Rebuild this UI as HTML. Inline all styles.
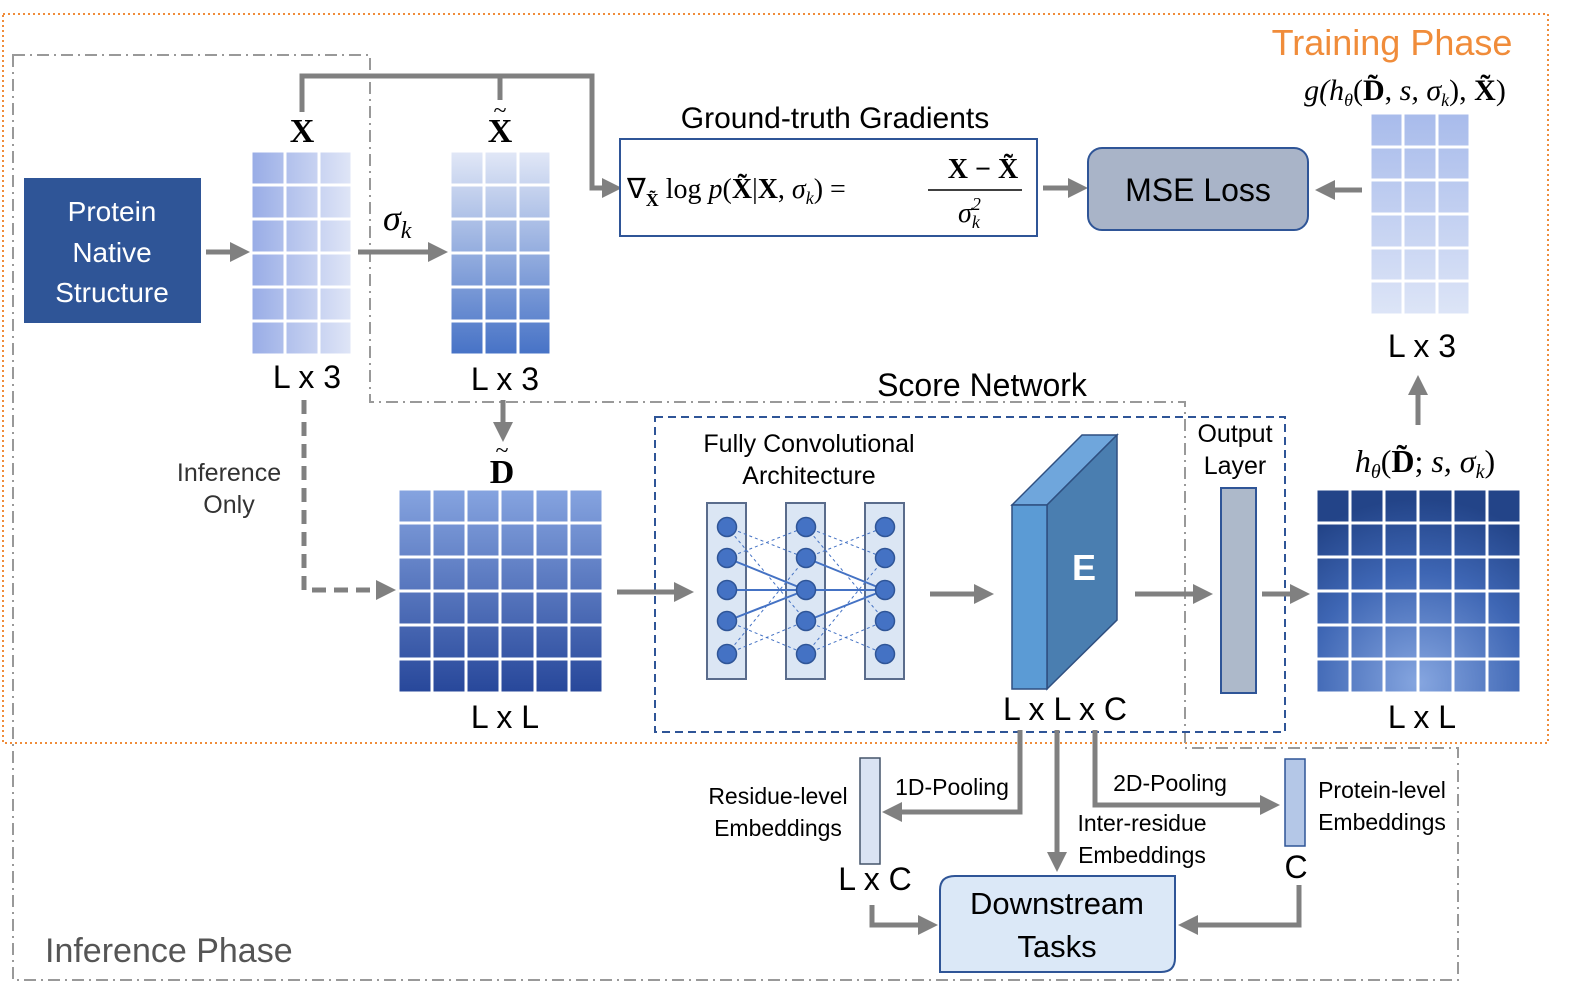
<!DOCTYPE html>
<html><head><meta charset="utf-8"><style>body{margin:0;background:#fff}svg{display:block}</style></head><body>
<svg width="1578" height="1005" viewBox="0 0 1578 1005" xmlns="http://www.w3.org/2000/svg" font-family="Liberation Sans, sans-serif">
<defs>
<linearGradient id="gx" x1="0" x2="1" y1="0" y2="0"><stop offset="0" stop-color="#98ace6"/><stop offset="1" stop-color="#e0e6f7"/></linearGradient>
<linearGradient id="gxt" x1="0" x2="0" y1="0" y2="1"><stop offset="0" stop-color="#e2e8f7"/><stop offset="1" stop-color="#4672c6"/></linearGradient>
<linearGradient id="gr" x1="0" x2="0" y1="0" y2="1"><stop offset="0" stop-color="#a8bbeb"/><stop offset="1" stop-color="#dde5f7"/></linearGradient>
<linearGradient id="gd" x1="0" x2="0" y1="0" y2="1"><stop offset="0" stop-color="#86a4e0"/><stop offset="1" stop-color="#27479a"/></linearGradient>
<radialGradient id="gh" cx="0.5" cy="0.95" r="0.9"><stop offset="0" stop-color="#86a6e0"/><stop offset="0.6" stop-color="#3e66b4"/><stop offset="1" stop-color="#234488"/></radialGradient>
<marker id="ah" markerWidth="4" markerHeight="4" refX="2" refY="2" orient="auto"><path d="M0,0 L4,2 L0,4z" fill="#808080"/></marker>
<pattern id="cells3" width="1" height="1"/>
</defs>
<!-- frames -->
<rect x="3" y="14" width="1545" height="729" fill="none" stroke="#f08c3a" stroke-width="2" stroke-dasharray="2,3"/>
<path d="M13,55 H370 V402 H1185 V748 H1458 V980 H13 Z" fill="none" stroke="#999" stroke-width="2" stroke-dasharray="12,5,2,5"/>
<rect x="655" y="417" width="630" height="315" fill="none" stroke="#2F5597" stroke-width="2" stroke-dasharray="8,5"/>
<text x="1392" y="55" font-size="36" fill="#f08c3a" text-anchor="middle">Training Phase</text>
<text x="45" y="962" font-size="34" fill="#555">Inference Phase</text>
<!-- protein box -->
<rect x="24" y="178" width="177" height="145" fill="#2F5597"/>
<text font-size="28" fill="#fff" text-anchor="middle"><tspan x="112" y="221">Protein</tspan><tspan x="112" y="262">Native</tspan><tspan x="112" y="302">Structure</tspan></text>
<!-- matrices -->
<g stroke="#fff" stroke-width="3">
<rect x="251" y="151" width="101" height="204" fill="url(#gx)"/>
<path d="M285,151V355M319,151V355M251,185H352M251,219H352M251,253H352M251,287H352M251,321H352"/>
<rect x="450" y="151" width="101" height="204" fill="url(#gxt)"/>
<path d="M484,151V355M518,151V355M450,185H551M450,219H551M450,253H551M450,287H551M450,321H551"/>
<rect x="1370" y="113" width="100" height="202" fill="url(#gr)"/>
<path d="M1403,113V315M1437,113V315M1370,147H1470M1370,180H1470M1370,214H1470M1370,248H1470M1370,281H1470"/>
<rect x="398" y="489" width="205" height="204" fill="url(#gd)"/>
<path d="M432,489V693M466,489V693M500,489V693M535,489V693M569,489V693M398,523H603M398,557H603M398,591H603M398,625H603M398,659H603"/>
<rect x="1316" y="489" width="205" height="204" fill="url(#gh)"/>
<path d="M1350,489V693M1384,489V693M1418,489V693M1453,489V693M1487,489V693M1316,523H1521M1316,557H1521M1316,591H1521M1316,625H1521M1316,659H1521"/>
</g>
<g font-family="Liberation Serif, serif" font-weight="bold" font-size="34" text-anchor="middle">
<text x="302" y="142">X</text><text x="500" y="142">X</text><text x="500" y="118" font-weight="normal" font-size="24">~</text>
<text x="502" y="483">D</text><text x="502" y="458" font-weight="normal" font-size="24">~</text>
</g>
<g font-size="32" text-anchor="middle">
<text x="307" y="388">L x 3</text><text x="505" y="390">L x 3</text><text x="1422" y="357">L x 3</text>
<text x="505" y="728">L x L</text><text x="1422" y="728">L x L</text><text x="1065" y="720">L x L x C</text>
<text x="875" y="890">L x C</text><text x="1296" y="878">C</text>
</g>
<text x="383" y="230" font-family="Liberation Serif, serif" font-style="italic" font-size="36">σ<tspan font-size="24" dy="8">k</tspan></text>
<!-- arrows -->
<g stroke="#808080" stroke-width="5" fill="none" marker-end="url(#ah)">
<path d="M206,252H240"/>
<path d="M358,252H438"/>
<path d="M302,112V76H592V188H612"/>
<path d="M1043,188H1078"/>
<path d="M1362,190H1325"/>
<path d="M1418,425V385"/>
<path d="M503,400V432"/>
<path d="M304,400V590H386" stroke-dasharray="14,8"/>
<path d="M617,592H684"/>
<path d="M930,594H984"/>
<path d="M1135,594H1203"/>
<path d="M1262,594H1300"/>
<path d="M1020,730V812H892"/>
<path d="M1057,730V862"/>
<path d="M1095,730V805H1270"/>
<path d="M872,905V925H928"/>
<path d="M1299,885V925H1188"/>
</g>
<path d="M500,100V76" stroke="#808080" stroke-width="5"/>
<!-- formula -->
<text x="835" y="128" font-size="30" text-anchor="middle">Ground-truth Gradients</text>
<rect x="620" y="139" width="417" height="97" fill="#fff" stroke="#2F5597" stroke-width="2"/>
<text x="627" y="198" font-family="Liberation Serif, serif" font-size="28">∇<tspan font-size="18" font-weight="bold" dy="8">X̃</tspan><tspan dy="-8"> log </tspan><tspan font-style="italic">p</tspan>(<tspan font-weight="bold">X̃</tspan>|<tspan font-weight="bold">X</tspan>, <tspan font-style="italic">σ</tspan><tspan font-size="18" font-style="italic" dy="6">k</tspan><tspan dy="-6">) =</tspan></text>
<text x="983" y="178" font-family="Liberation Serif, serif" font-size="28" font-weight="bold" text-anchor="middle">X − X̃</text>
<line x1="928" y1="190" x2="1022" y2="190" stroke="#000" stroke-width="1.5"/>
<text x="958" y="222" font-family="Liberation Serif, serif" font-size="28" font-style="italic">σ<tspan font-size="18" dy="-12">2</tspan><tspan font-size="18" dx="-9" dy="18">k</tspan></text>
<rect x="1088" y="148" width="220" height="82" rx="14" fill="#a9b4c8" stroke="#2F5597" stroke-width="2"/>
<text x="1198" y="201" font-size="32" text-anchor="middle">MSE Loss</text>
<text x="1405" y="100" font-family="Liberation Serif, serif" font-size="30" font-style="italic" text-anchor="middle">g(h<tspan font-size="18" dy="6">θ</tspan><tspan dy="-6" font-style="normal">(<tspan font-weight="bold">D̃</tspan>, </tspan>s, σ<tspan font-size="18" dy="6">k</tspan><tspan dy="-6" font-style="normal">), <tspan font-weight="bold">X̃</tspan>)</tspan></text>
<text x="1425" y="472" font-family="Liberation Serif, serif" font-size="32" font-style="italic" text-anchor="middle">h<tspan font-size="20" dy="6">θ</tspan><tspan dy="-6" font-style="normal">(<tspan font-weight="bold">D̃</tspan>; </tspan>s, σ<tspan font-size="20" dy="6">k</tspan><tspan dy="-6" font-style="normal">)</tspan></text>
<text x="982" y="396" font-size="32" text-anchor="middle">Score Network</text>
<text font-size="25" text-anchor="middle" fill="#333"><tspan x="229" y="481">Inference</tspan><tspan x="229" y="513">Only</tspan></text>
<text font-size="25" text-anchor="middle"><tspan x="809" y="452">Fully Convolutional</tspan><tspan x="809" y="484">Architecture</tspan></text>
<text font-size="25" text-anchor="middle"><tspan x="1235" y="442">Output</tspan><tspan x="1235" y="474">Layer</tspan></text>
<!-- NN -->
<g fill="#dbe6f4" stroke="#5a6c8c" stroke-width="2">
<rect x="707" y="503" width="39" height="176"/><rect x="786" y="503" width="39" height="176"/><rect x="865" y="503" width="39" height="176"/>
</g>
<g stroke="#4472c4" stroke-width="1" stroke-dasharray="3,3">
<path d="M727,527L806,558M727,558L806,527M727,621L806,654M727,654L806,621M806,527L885,558M806,558L885,527M806,621L885,654M806,654L885,621M727,527L806,621M727,654L806,558M806,527L885,621M806,654L885,558"/>
</g>
<g stroke="#4472c4" stroke-width="2">
<path d="M727,558L806,590M727,590H806M727,621L806,590M806,558L885,590M806,590H885M806,621L885,590"/>
</g>
<g fill="#4472c4" stroke="#2F5597" stroke-width="1.5">
<circle cx="727" cy="527" r="9.5"/><circle cx="727" cy="558" r="9.5"/><circle cx="727" cy="590" r="9.5"/><circle cx="727" cy="621" r="9.5"/><circle cx="727" cy="654" r="9.5"/>
<circle cx="806" cy="527" r="9.5"/><circle cx="806" cy="558" r="9.5"/><circle cx="806" cy="590" r="9.5"/><circle cx="806" cy="621" r="9.5"/><circle cx="806" cy="654" r="9.5"/>
<circle cx="885" cy="527" r="9.5"/><circle cx="885" cy="558" r="9.5"/><circle cx="885" cy="590" r="9.5"/><circle cx="885" cy="621" r="9.5"/><circle cx="885" cy="654" r="9.5"/>
</g>
<!-- E block -->
<g stroke="#2f4f80" stroke-width="1.5">
<path d="M1012,505L1082,435H1117L1047,505Z" fill="#6fa6dc"/>
<path d="M1047,505L1117,435V620L1047,689Z" fill="#4a7eb0"/>
<rect x="1012" y="505" width="35" height="184" fill="#5b9bd5"/>
</g>
<text x="1084" y="580" font-size="36" font-weight="bold" fill="#fff" text-anchor="middle">E</text>
<rect x="1221" y="488" width="35" height="205" fill="#adb9ca" stroke="#2F5597" stroke-width="2"/>
<!-- bottom -->
<rect x="860" y="758" width="20" height="106" fill="#dae3f3" stroke="#44546a" stroke-width="1.5"/>
<rect x="1285" y="759" width="20" height="87" fill="#b4c7e7" stroke="#2F5597" stroke-width="1.5"/>
<g font-size="23" text-anchor="middle">
<text x="778" y="804">Residue-level</text><text x="778" y="836">Embeddings</text>
<text x="952" y="795">1D-Pooling</text><text x="1170" y="791">2D-Pooling</text>
<text x="1142" y="831">Inter-residue</text><text x="1142" y="863">Embeddings</text>
<text x="1382" y="798">Protein-level</text><text x="1382" y="830">Embeddings</text>
</g>
<path d="M955,876H1175V958Q1175,972 1161,972H940V890Q940,876 955,876Z" fill="#dbe8f7" stroke="#2F5597" stroke-width="2"/>
<text font-size="31" text-anchor="middle"><tspan x="1057" y="914">Downstream</tspan><tspan x="1057" y="957">Tasks</tspan></text>
</svg>
</body></html>
